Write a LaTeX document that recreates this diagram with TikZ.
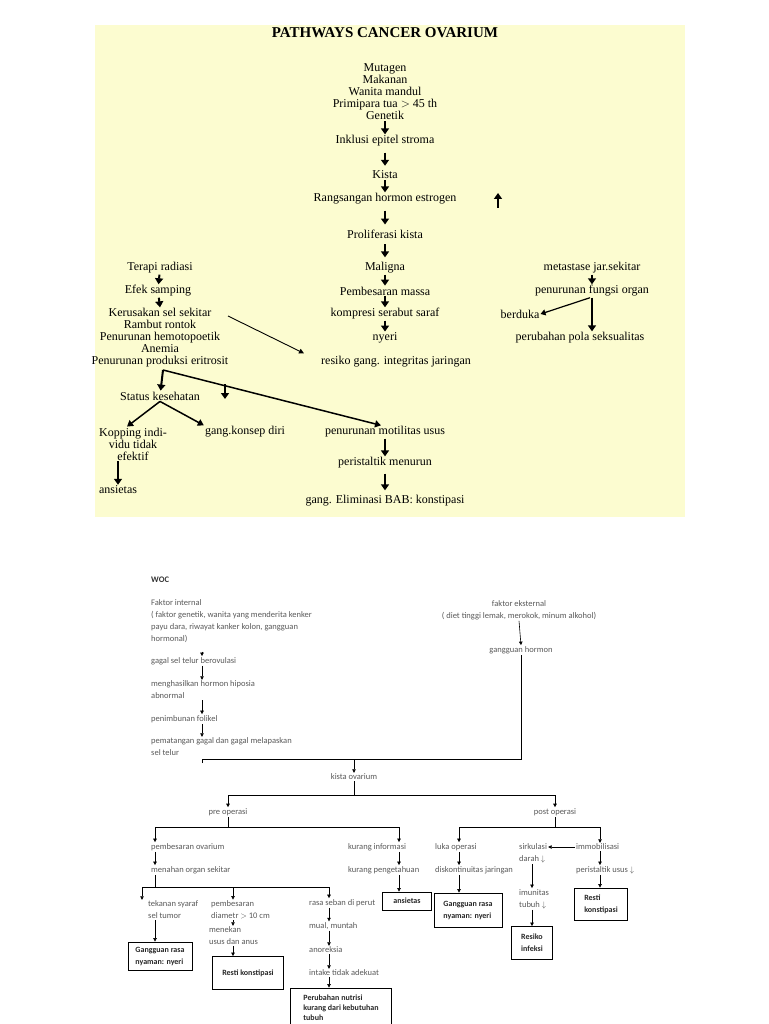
\documentclass[tikz,border=0pt]{standalone}
\usepackage{fontspec}
\setmainfont{Liberation Serif}
\newfontfamily\woc{Carlito}
\usetikzlibrary{arrows.meta}
\definecolor{paper}{RGB}{252,252,208}

\tikzset{
  pt/.style={font=\fontsize{12}{12}\selectfont,inner sep=1pt,align=center},
  big/.style={-{Triangle[width=8pt,length=6pt]},line width=2pt},
  wt/.style={font=\woc\fontsize{8.5}{12}\selectfont,text=black!65,inner sep=1pt,anchor=west,align=left},
  wa/.style={-{Triangle[width=3.5pt,length=3.5pt]},semithick},
  wbox/.style={draw,thick,font=\woc\bfseries\fontsize{8}{12}\selectfont,text=black!85,align=left,inner sep=3pt}
}

\begin{document}
\begin{tikzpicture}[x=1pt,y=-1pt]
    \useasboundingbox (0,0) rectangle (768,1024);
    \fill [paper] (95,25) rectangle (685,517);
    \node [font=\bfseries\fontsize{15}{15}\selectfont] (title) at (385,33) {PATHWAYS CANCER OVARIUM};

    % pathway, middle column
    \node [pt] (causes) at (385,92) {Mutagen\\Makanan\\Wanita mandul\\Primipara tua $>$ 45 th\\Genetik};
    \node [pt] (inklusi) at (385,141) {Inklusi epitel stroma};
    \node [pt] (kista) at (385,175) {Kista};
    \node [pt] (rangsang) at (385,199) {Rangsangan hormon estrogen};
    \node [pt] (prolif) at (385,234) {Proliferasi kista};
    \node [pt] (maligna) at (385,268) {Maligna};
    \node [pt] (massa) at (385,291) {Pembesaran massa};
    \node [pt] (kompresi) at (385,314) {kompresi serabut saraf};
    \node [pt] (nyeri) at (385,338) {nyeri};
    \coordinate (naik) at (498,208);
    \foreach \a/\b in {causes/inklusi,kista/rangsang,massa/kompresi,kompresi/nyeri,maligna/massa}
        \draw [big] (\a) -- (\b);
    \foreach \a/\b in {inklusi/kista,rangsang/prolif,prolif/maligna}
        \draw [big,shorten <=5pt,shorten >=4pt] (\a) -- (\b);
    \draw [big] (naik) -- ++(0,-15);

    % left column
    \node [pt] (terapi) at (160,268) {Terapi radiasi};
    \node [pt] (efek) at (158,291) {Efek samping};
    \node [pt] (rusak) at (160,338) {Kerusakan sel sekitar\\Rambut rontok\\Penurunan hemotopoetik\\Anemia\\Penurunan produksi eritrosit};
    \node [pt] (resiko) at (396,362) {resiko gang. integritas jaringan};
    \draw [big] (terapi) -- (efek);
    \draw [big] (efek) -- (rusak.north);
    \coordinate (kr) at (228,316);
    \draw [-{Triangle[width=5pt,length=5pt]},line width=0.9pt] (kr) -- ([xshift=-16pt,yshift=2pt]resiko.north west);

    % right column
    \node [pt] (meta) at (592,268) {metastase jar.sekitar};
    \node [pt] (fungsi) at (592,291) {penurunan fungsi organ};
    \node [pt] (duka) at (520,314) {berduka};
    \node [pt] (seks) at (580,338) {perubahan pola seksualitas};
    \draw [big] (meta) -- (fungsi);
    \draw [big] (fungsi.south) -- (fungsi.south |- seks.north);
    \draw [-{Triangle[width=6pt,length=5pt]},line width=1.2pt] ([xshift=-2pt]fungsi.south) -- (duka.east);

    % lower part
    \node [pt] (status) at (160,396) {Status kesehatan};
    \node [pt] (kopping) at (133,444) {Kopping indi-\\vidu tidak\\efektif};
    \node [pt] (konsep) at (245,432) {gang.konsep diri};
    \node [pt] (motil) at (385,432) {penurunan motilitas usus};
    \node [pt] (peris) at (385,463) {peristaltik menurun};
    \node [pt] (elim) at (385,501) {gang. Eliminasi BAB: konstipasi};
    \node [pt] (cemas) at (118,490) {ansietas};
    \coordinate (pp) at (163,370);
    \coordinate (lone) at (225,384);
    \draw [big] (pp) -- (status);
    \draw [-{Triangle[width=7pt,length=6pt]},line width=1.5pt] (pp) -- ([xshift=-4pt]motil.north);
    \draw [big] (lone) -- ++(0,15);
    \draw [-{Triangle[width=7pt,length=6pt]},line width=1.5pt] (status.south) -- ([xshift=-6pt]kopping.north);
    \draw [-{Triangle[width=7pt,length=6pt]},line width=1.5pt] (status.south) -- (konsep.north west);
    \draw [big] (motil) -- (peris);
    \draw [big,shorten <=4pt,shorten >=4pt] (peris) -- (elim);
    \draw [big] (kopping.south -| cemas) -- (cemas);

    % WOC
    \node [wt,font=\woc\bfseries\fontsize{8.5}{12}\selectfont,text=black!80] (wochead) at (150,580) {WOC};
    \node [wt] (internal) at (150,621) {Faktor internal\\( faktor genetik, wanita yang menderita kenker\\payu dara, riwayat kanker kolon, gangguan\\hormonal)};
    \node [wt] (gagal) at (150,661) {gagal sel telur berovulasi};
    \node [wt] (hiposia) at (150,690) {menghasilkan hormon hiposia\\abnormal};
    \node [wt] (folikel) at (150,719) {penimbunan folikel};
    \node [wt] (matang) at (150,747) {pematangan gagal dan gagal melapaskan\\sel telur};
    \node [wt,anchor=center,align=center] (eksternal) at (519,610) {faktor eksternal\\( diet tinggi lemak, merokok, minum alkohol)};
    \node [wt,anchor=center] (hormon) at (521,650) {gangguan hormon};
    \node [wt,anchor=center] (ovarium) at (354,777) {kista ovarium};
    \coordinate (ax) at (202,0);
    \coordinate (j1) at (202,759);
    \coordinate (j2) at (521,759);
    \draw [wa] ([yshift=-8pt]internal.south -| ax) -- (gagal.north -| ax);
    \draw [wa] (gagal.south -| ax) -- (hiposia.north -| ax);
    \draw [wa] (hiposia.south -| ax) -- (folikel.north -| ax);
    \draw [wa] (folikel.south -| ax) -- (matang.north -| ax);
    \draw [wa] (eksternal.south) -- (hormon.north);
    \draw [semithick] ([yshift=-6pt]matang.south -| ax) -- (j1) -- (j2) -- (hormon.south);
    \draw [wa] (ovarium.north |- j1) -- (ovarium.north);

    % pre / post operasi
    \node [wt,anchor=center] (pre) at (228,812) {pre operasi};
    \node [wt,anchor=center] (post) at (555,812) {post operasi};
    \coordinate (s1) at (354,795);
    \coordinate (p1) at (0,827);
    \coordinate (q1) at (0,887);
    \foreach \n/\x in {cA/155,cT/142,cB/233,cC/329,cD/399,cE/459,cF/532,cG/600}
        \coordinate (\n) at (\x,0);
    \draw [semithick] (ovarium.south) -- (s1);
    \draw [wa] (s1) -| (pre.north);
    \draw [wa] (s1) -| (post.north);

    \node [wt] (pembes) at (150,847) {pembesaran ovarium};
    \node [wt] (menahan) at (150,870) {menahan organ sekitar};
    \node [wt] (tekanan) at (147,910) {tekanan syaraf\\sel tumor};
    \node [wbox,minimum width=64pt,minimum height=28pt] (nyeriA) at (160,956) {Gangguan rasa\\nyaman: nyeri};
    \node [wt] (diam) at (210,910) {pembesaran\\diametr $>$ 10 cm};
    \node [wt] (menekan) at (208,936) {menekan\\usus dan anus};
    \node [wbox,minimum width=71pt,minimum height=33pt] (restiA) at (248,973) {Resti konstipasi};
    \node [wt] (seban) at (308,903) {rasa seban di perut};
    \node [wt] (mual) at (308,926) {mual, muntah};
    \node [wt] (anor) at (308,950) {anoreksia};
    \node [wt] (intake) at (308,973) {intake tidak adekuat};
    \node [wbox,minimum width=101pt,minimum height=40pt,font=\woc\bfseries\fontsize{8}{10}\selectfont] (nutrisi) at (341,1008) {Perubahan nutrisi\\kurang dari kebutuhan\\tubuh};
    \node [wt] (info) at (347,847) {kurang informasi};
    \node [wt] (tahu) at (347,870) {kurang pengetahuan};
    \node [wbox,minimum width=49pt,minimum height=18pt] (ansA) at (407,901) {ansietas};

    \node [wt] (luka) at (434,847) {luka operasi};
    \node [wt] (disk) at (434,870) {diskontinuitas jaringan};
    \node [wbox,minimum width=68pt,minimum height=34pt] (nyeriB) at (468,910) {Gangguan rasa\\nyaman: nyeri};
    \node [wt] (sirk) at (518,853) {sirkulasi\\darah $\downarrow$};
    \node [wt] (imun) at (518,899) {imunitas\\tubuh $\downarrow$};
    \node [wbox,minimum width=41pt,minimum height=33pt] (infeksi) at (532,943) {Resiko\\infeksi};
    \node [wt] (immob) at (575,847) {immobilisasi};
    \node [wt] (peri) at (575,870) {peristaltik usus $\downarrow$};
    \node [wbox,minimum width=53pt,minimum height=32pt] (restiB) at (601,904) {Resti\\konstipasi};

    \draw [semithick] (pre.south) -- (pre.south |- p1) (cA |- p1) -- (cD |- p1);
    \draw [semithick] (post.south) -- (post.south |- p1) (cE |- p1) -- (cG |- p1);
    \draw [wa] (cA |- p1) -- (pembes.north -| cA);
    \draw [wa] (cD |- p1) -- (info.north -| cD);
    \draw [wa] (cE |- p1) -- (luka.north -| cE);
    \draw [wa] (cG |- p1) -- (immob.north -| cG);
    \draw [wa] (pembes.south -| cA) -- (menahan.north -| cA);
    \draw [semithick] (menahan.south -| cA) -- (cA |- q1) (cT |- q1) -- (cC |- q1);
    \draw [wa] (cT |- q1) -- (tekanan.north -| cT);
    \draw [wa] (cB |- q1) -- (diam.north -| cB);
    \draw [wa] (cC |- q1) -- (seban.north -| cC);
    \draw [wa] (tekanan.south -| cA) -- (nyeriA.north -| cA);
    \draw [wa] (diam.south -| cB) -- (menekan.north -| cB);
    \draw [wa] (menekan.south -| cB) -- (restiA.north -| cB);
    \foreach \a/\b in {seban/mual,mual/anor,anor/intake}
        \draw [wa] (\a.south -| cC) -- (\b.north -| cC);
    \draw [wa] (intake.south -| cC) -- (nutrisi.north -| cC);
    \draw [wa] (info.south -| cD) -- (tahu.north -| cD);
    \draw [wa] (tahu.south -| cD) -- (ansA.north -| cD);
    \draw [wa] (luka.south -| cE) -- (disk.north -| cE);
    \draw [wa] (disk.south -| cE) -- (nyeriB.north -| cE);
    \draw [wa] (immob.west) -- (immob.west -| sirk.east);
    \draw [wa] (sirk.south -| cF) -- (imun.north -| cF);
    \draw [wa] (imun.south -| cF) -- (infeksi.north -| cF);
    \draw [wa] (immob.south -| cG) -- (peri.north -| cG);
    \draw [wa] (peri.south -| cG) -- (restiB.north -| cG);
\end{tikzpicture}
\end{document}
